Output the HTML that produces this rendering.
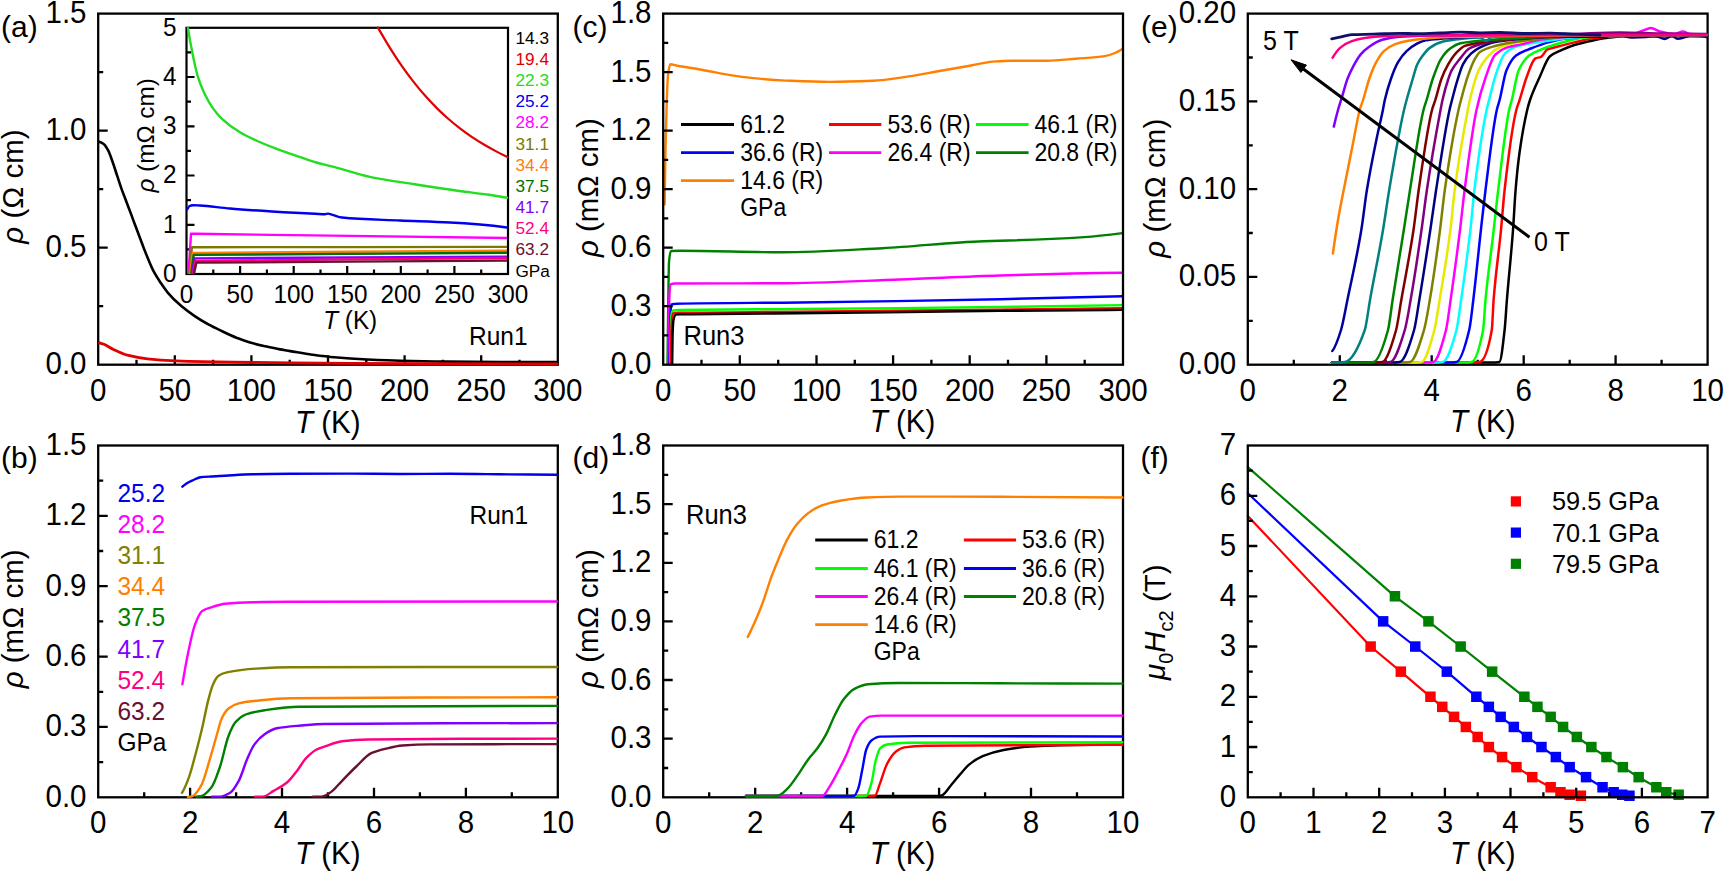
<!DOCTYPE html>
<html><head><meta charset="utf-8"><title>Resistivity figure</title>
<style>
html,body{margin:0;padding:0;background:#fff;}
body{width:1724px;height:872px;overflow:hidden;}
svg{display:block;font-family:"Liberation Sans", Arial, sans-serif;}
</style></head>
<body>
<svg width="1724" height="872" viewBox="0 0 1724 872">
<rect width="1724" height="872" fill="#fff"/>
<path d="M136.5,364.7 V359.7 M174.8,364.7 V355.2 M213.1,364.7 V359.7 M251.4,364.7 V355.2 M289.7,364.7 V359.7 M328,364.7 V355.2 M366.3,364.7 V359.7 M404.6,364.7 V355.2 M442.9,364.7 V359.7 M481.2,364.7 V355.2 M519.5,364.7 V359.7 M98.2,306.2 H103.2 M98.2,247.7 H107.7 M98.2,189.2 H103.2 M98.2,130.6 H107.7 M98.2,72.1 H103.2 " stroke="#000" stroke-width="2.3" fill="none"/>
<rect x="98.2" y="13.6" width="459.6" height="351.1" fill="none" stroke="#000" stroke-width="2.3"/>
<text transform="translate(98.2,400.5) scale(1,1.09)" font-size="29.5" text-anchor="middle" fill="#000">0</text>
<text transform="translate(174.8,400.5) scale(1,1.09)" font-size="29.5" text-anchor="middle" fill="#000">50</text>
<text transform="translate(251.4,400.5) scale(1,1.09)" font-size="29.5" text-anchor="middle" fill="#000">100</text>
<text transform="translate(328,400.5) scale(1,1.09)" font-size="29.5" text-anchor="middle" fill="#000">150</text>
<text transform="translate(404.6,400.5) scale(1,1.09)" font-size="29.5" text-anchor="middle" fill="#000">200</text>
<text transform="translate(481.2,400.5) scale(1,1.09)" font-size="29.5" text-anchor="middle" fill="#000">250</text>
<text transform="translate(557.8,400.5) scale(1,1.09)" font-size="29.5" text-anchor="middle" fill="#000">300</text>
<text transform="translate(86.5,374.2) scale(1,1.09)" font-size="29.5" text-anchor="end" fill="#000">0.0</text>
<text transform="translate(86.5,257.2) scale(1,1.09)" font-size="29.5" text-anchor="end" fill="#000">0.5</text>
<text transform="translate(86.5,140.1) scale(1,1.09)" font-size="29.5" text-anchor="end" fill="#000">1.0</text>
<text transform="translate(86.5,23.1) scale(1,1.09)" font-size="29.5" text-anchor="end" fill="#000">1.5</text>
<path d="M99.5,141.9 C101,142 102.4,143.1 103.9,144.2 C105.4,145.4 106.9,148 108.4,150.9 C109.9,153.8 111.4,158.6 112.9,162.8 C114.4,167 115.8,171.8 117.3,176.2 C118.8,180.7 120.3,185.4 121.8,189.6 C123.3,193.8 124.8,197.5 126.3,201.5 C127.8,205.5 129.3,209.4 130.8,213.4 C132.3,217.3 133.7,221.4 135.2,225.3 C136.7,229.3 138.2,233.3 139.7,237.3 C141.2,241.3 142.7,245.4 144.2,249.2 C147.4,257.2 150.6,265.6 153.8,271.7 C156.1,276 158.3,279.3 160.6,282.7 C162.9,286.1 165.2,289.6 167.5,292.3 C172.1,297.8 176.7,302.2 181.3,306.1 C185.9,310 190.5,313.3 195.1,316.4 C199.7,319.5 204.2,322.2 208.8,324.7 C213.4,327.2 218,329.3 222.6,331.5 C227.2,333.7 231.8,335.9 236.4,337.7 C241,339.5 245.5,341.3 250.1,342.6 C254.7,343.9 259.3,345 263.9,346 C269.3,347.2 274.6,348.4 280,349.4 C283.4,350 286.8,350.5 290.2,351.1 C297.5,352.3 304.9,353.7 312.2,354.7 C319.6,355.7 326.9,356.7 334.3,357.3 C345.3,358.3 356.3,359 367.3,359.5 C378.3,360 389.4,360.5 400.4,360.8 C415.1,361.2 429.8,361.5 444.5,361.6 C481.7,361.9 518.8,362.1 556,362.1" fill="none" stroke="#000000" stroke-width="2.6" stroke-linejoin="round" stroke-linecap="round"/>
<path d="M99.5,342.8 C101,343.2 102.5,343.7 104,344.3 C107,345.5 110,347.8 113,349.2 C117.8,351.5 122.5,354 127.3,355.2 C134,356.9 140.7,358.1 147.4,358.8 C156.9,359.8 166.5,360.4 176,360.8 C195.1,361.5 214.3,361.9 233.4,362.2 C272.3,362.8 311.1,363.2 350,363.4 C419,363.7 488,364 557,364" fill="none" stroke="#e00000" stroke-width="2.8" stroke-linejoin="round" stroke-linecap="round"/>
<text transform="translate(327.8,432.6) scale(1,1.09)" font-size="29.5" text-anchor="middle"><tspan font-style="italic">T</tspan> (K)</text>
<text transform="translate(22.7,186.5) rotate(-90)" font-size="29.5" text-anchor="middle"><tspan font-style="italic">&#961;</tspan> (&#937; cm)</text>
<text transform="translate(1,37.1) scale(1,0.97)" font-size="30" fill="#000">(a)</text>
<text transform="translate(469,345.4) scale(1,1.09)" font-size="24.5" text-anchor="start" fill="#000">Run1</text>
<rect x="186.5" y="27.8" width="321.5" height="246.2" fill="#fff"/>
<path d="M213.3,274 V269.5 M240.1,274 V266 M266.9,274 V269.5 M293.7,274 V266 M320.5,274 V269.5 M347.2,274 V266 M374,274 V269.5 M400.8,274 V266 M427.6,274 V269.5 M454.4,274 V266 M481.2,274 V269.5 M186.5,249.4 H191 M186.5,224.8 H194.5 M186.5,200.1 H191 M186.5,175.5 H194.5 M186.5,150.9 H191 M186.5,126.3 H194.5 M186.5,101.7 H191 M186.5,77 H194.5 M186.5,52.4 H191 " stroke="#000" stroke-width="2.2" fill="none"/>
<rect x="186.5" y="27.8" width="321.5" height="246.2" fill="none" stroke="#000" stroke-width="2.2"/>
<text transform="translate(186.5,303.3) scale(1,1.09)" font-size="24.3" text-anchor="middle" fill="#000">0</text>
<text transform="translate(240.1,303.3) scale(1,1.09)" font-size="24.3" text-anchor="middle" fill="#000">50</text>
<text transform="translate(293.7,303.3) scale(1,1.09)" font-size="24.3" text-anchor="middle" fill="#000">100</text>
<text transform="translate(347.2,303.3) scale(1,1.09)" font-size="24.3" text-anchor="middle" fill="#000">150</text>
<text transform="translate(400.8,303.3) scale(1,1.09)" font-size="24.3" text-anchor="middle" fill="#000">200</text>
<text transform="translate(454.4,303.3) scale(1,1.09)" font-size="24.3" text-anchor="middle" fill="#000">250</text>
<text transform="translate(508,303.3) scale(1,1.09)" font-size="24.3" text-anchor="middle" fill="#000">300</text>
<text transform="translate(176.5,281.8) scale(1,1.09)" font-size="24.3" text-anchor="end" fill="#000">0</text>
<text transform="translate(176.5,232.6) scale(1,1.09)" font-size="24.3" text-anchor="end" fill="#000">1</text>
<text transform="translate(176.5,183.3) scale(1,1.09)" font-size="24.3" text-anchor="end" fill="#000">2</text>
<text transform="translate(176.5,134.1) scale(1,1.09)" font-size="24.3" text-anchor="end" fill="#000">3</text>
<text transform="translate(176.5,84.8) scale(1,1.09)" font-size="24.3" text-anchor="end" fill="#000">4</text>
<text transform="translate(176.5,35.6) scale(1,1.09)" font-size="24.3" text-anchor="end" fill="#000">5</text>
<path d="M377.8,27.4 C381.7,34.3 385.7,41 389.6,47.3 C393.5,53.6 397.5,59.7 401.4,65.4 C405.3,71.1 409.3,76.4 413.2,81.4 C417.1,86.4 421.1,91.2 425,95.6 C428.9,100 432.9,104.2 436.8,108.1 C440.7,112 444.6,115.6 448.5,119 C452.4,122.4 456.4,125.6 460.3,128.6 C464.2,131.6 468.2,134.5 472.1,137.1 C476,139.7 480,142.2 483.9,144.5 C487.8,146.8 491.8,149 495.7,151.1 C499.6,153.2 503.6,155.2 507.5,157.1" fill="none" stroke="#e00000" stroke-width="2.2" stroke-linejoin="round" stroke-linecap="round"/>
<path d="M188,28.2 C189.4,37.1 190.9,45.4 192.3,52.5 C194.1,61.6 196,70.4 197.8,76.4 C199.6,82.4 201.5,87 203.3,91 C206.4,97.7 209.4,103.2 212.5,107.6 C215.6,112 218.6,115.7 221.7,118.6 C227.8,124.4 233.9,128.6 240,132.3 C246.1,136 252.3,138.8 258.4,141.5 C264.5,144.2 270.6,146.6 276.7,148.9 C282.8,151.2 289,153.2 295.1,155.3 C301.2,157.4 307.3,159.9 313.4,161.7 C322.3,164.4 331.1,166.2 340,168.6 C349.9,171.3 359.9,174.7 369.8,176.8 C384.7,180 399.6,181.9 414.5,184.3 C429.4,186.7 444.3,189 459.2,191 C469.1,192.3 479.1,193.3 489,194.7 C495,195.6 501,196.6 507,197.7" fill="none" stroke="#22dd22" stroke-width="2.4" stroke-linejoin="round" stroke-linecap="round"/>
<path d="M187.5,209 C188.2,207.7 188.8,206.3 189.5,206 C190.7,205.5 191.8,205.2 193,205.2 C195.3,205.2 197.7,205.4 200,205.5 C210,206.1 220,207.7 230,208.5 C244,209.7 258,210.6 272,211.5 C286.3,212.4 300.7,213.2 315,213.8 C318.3,213.9 321.7,214.2 325,214.2 C326,214.2 327,213.6 328,213.6 C329.3,213.6 330.7,214.2 332,214.6 C335.3,215.5 338.7,217.1 342,217.5 C361.3,219.5 380.7,219.6 400,220.5 C416.7,221.2 433.3,221.6 450,222.5 C460,223 470,223.7 480,224.5 C489,225.3 498,226.3 507,227.5" fill="none" stroke="#0000ee" stroke-width="2.4" stroke-linejoin="round" stroke-linecap="round"/>
<path d="M188.5,274 L191,233.8 L196,233.8 L350,235.9 L507,238" fill="none" stroke="#ff00ff" stroke-width="2.4" stroke-linejoin="round"/>
<path d="M189.4,274 L191.9,247.2 L196,247.2 L350,247.1 L507,246.9" fill="none" stroke="#7a7a00" stroke-width="2.4" stroke-linejoin="round"/>
<path d="M190.3,274 L192.8,253 L196,253 L350,251.8 L507,250.6" fill="none" stroke="#ff8000" stroke-width="2.4" stroke-linejoin="round"/>
<path d="M191.2,274 L193.7,254.9 L196,254.9 L350,253.9 L507,252.8" fill="none" stroke="#007000" stroke-width="2.4" stroke-linejoin="round"/>
<path d="M192.1,274 L194.6,258.4 L196,258.4 L350,257.5 L507,256.6" fill="none" stroke="#8000ff" stroke-width="2.4" stroke-linejoin="round"/>
<path d="M193,274 L195.5,260.9 L196,260.9 L350,259.4 L507,258" fill="none" stroke="#ff0080" stroke-width="2.4" stroke-linejoin="round"/>
<path d="M193.9,274 L196.4,262.6 L196,262.6 L350,261.6 L507,260.6" fill="none" stroke="#6a1030" stroke-width="2.4" stroke-linejoin="round"/>
<text transform="translate(350.2,329) scale(1,1.09)" font-size="24.3" text-anchor="middle"><tspan font-style="italic">T</tspan> (K)</text>
<text transform="translate(153.7,135.4) rotate(-90)" font-size="24.3" text-anchor="middle"><tspan font-style="italic">&#961;</tspan> (m&#937; cm)</text>
<text transform="translate(515.5,43.6) scale(1,0.92)" font-size="17.2" text-anchor="start" fill="#000000">14.3</text>
<text transform="translate(515.5,64.8) scale(1,0.92)" font-size="17.2" text-anchor="start" fill="#e00000">19.4</text>
<text transform="translate(515.5,86) scale(1,0.92)" font-size="17.2" text-anchor="start" fill="#22dd22">22.3</text>
<text transform="translate(515.5,107.1) scale(1,0.92)" font-size="17.2" text-anchor="start" fill="#0000ee">25.2</text>
<text transform="translate(515.5,128.3) scale(1,0.92)" font-size="17.2" text-anchor="start" fill="#ff00ff">28.2</text>
<text transform="translate(515.5,149.5) scale(1,0.92)" font-size="17.2" text-anchor="start" fill="#7a7a00">31.1</text>
<text transform="translate(515.5,170.7) scale(1,0.92)" font-size="17.2" text-anchor="start" fill="#ff8000">34.4</text>
<text transform="translate(515.5,191.9) scale(1,0.92)" font-size="17.2" text-anchor="start" fill="#007000">37.5</text>
<text transform="translate(515.5,213) scale(1,0.92)" font-size="17.2" text-anchor="start" fill="#8000ff">41.7</text>
<text transform="translate(515.5,234.2) scale(1,0.92)" font-size="17.2" text-anchor="start" fill="#ff0080">52.4</text>
<text transform="translate(515.5,255.4) scale(1,0.92)" font-size="17.2" text-anchor="start" fill="#6a1030">63.2</text>
<text transform="translate(515.5,276.6) scale(1,0.92)" font-size="17.2" text-anchor="start" fill="#000000">GPa</text>
<path d="M664.6,204.4 C664.9,183.6 665.2,164.3 665.5,150 C665.9,129.4 666.4,111.7 666.8,100 C667.2,89.2 667.6,78.3 668,75 C668.8,68.7 669.5,64.2 670.3,64.2 C672.2,64.2 674.1,65.1 676,65.5 C683.5,67 691.1,67.9 698.6,69.2 C713.1,71.7 727.7,75.2 742.2,76.9 C756.7,78.6 771.3,80 785.8,80.6 C800.3,81.2 814.9,81.9 829.4,81.9 C843.9,81.9 858.5,81.4 873,80.8 C885,80.3 897,78.1 909,76.4 C918.7,75 928.3,73 938,71.3 C947.7,69.6 957.3,68 967,66.3 C975.7,64.8 984.4,62.3 993.1,61.6 C998.9,61.2 1004.7,60.7 1010.5,60.7 C1022.6,60.7 1034.7,60.7 1046.8,60.7 C1056.5,60.7 1066.1,59.5 1075.8,58.7 C1085.5,57.9 1095.1,57.6 1104.8,56.1 C1108.2,55.6 1111.6,54.4 1115,53 C1117.4,52 1119.8,50.5 1122.2,48.9" fill="none" stroke="#ff8000" stroke-width="2.4" stroke-linejoin="round" stroke-linecap="round"/>
<path d="M667.5,364 C667.8,339 668,317.2 668.3,300 C668.5,285 668.8,264.7 669,262 C669.7,254.3 670.3,251 671,251 C674,250.8 677,250.8 680,250.8 C713.9,250.8 747.9,252.3 781.8,252.3 C815.4,252.3 849.1,249.9 882.7,248.2 C916.3,246.5 950,242.3 983.6,241.2 C989.1,241 994.5,241 1000,240.8 C1028.2,240 1056.3,238.9 1084.5,237.1 C1097.1,236.3 1109.8,234.7 1122.4,233.1" fill="none" stroke="#008000" stroke-width="2.4" stroke-linejoin="round" stroke-linecap="round"/>
<path d="M668.5,364 C668.8,335 669,307.1 669.3,300 C669.6,291.1 670,284.7 670.3,284.5 C671.9,283.7 673.4,283.5 675,283.5 C710,283.3 745,283.4 780,283.3 C820,283.2 860,280.9 900,279.5 C933.3,278.3 966.7,276.5 1000,275.5 C1040.8,274.3 1081.6,273.3 1122.4,272.8" fill="none" stroke="#ff00ff" stroke-width="2.4" stroke-linejoin="round" stroke-linecap="round"/>
<path d="M669.5,364 C669.8,344.7 670,326.6 670.3,320 C670.6,311.8 671,304.6 671.3,304.5 C672.9,303.8 674.4,303.7 676,303.7 C717.3,302.7 758.7,303 800,302.5 C866.7,301.7 933.3,300.5 1000,299.2 C1040.8,298.4 1081.6,297.4 1122.4,296.3" fill="none" stroke="#0000ff" stroke-width="2.4" stroke-linejoin="round" stroke-linecap="round"/>
<path d="M670.2,364 C670.5,344.5 670.7,323.6 671,320 C671.4,314.2 671.9,310.9 672.3,310.8 C674.9,310.1 677.4,310.1 680,310 C720,309.2 760,309.4 800,309 C866.7,308.4 933.3,307.8 1000,307 C1040.8,306.5 1081.6,305.8 1122.4,305.1" fill="none" stroke="#00ff00" stroke-width="2.4" stroke-linejoin="round" stroke-linecap="round"/>
<path d="M670.8,364 C671.1,347.1 671.3,329 671.6,325 C672.1,318 672.5,313.6 673,313.5 C675.3,312.9 677.7,312.8 680,312.8 C720,312 760,312.2 800,311.8 C866.7,311.2 933.3,310.3 1000,309.6 C1040.8,309.2 1081.6,308.7 1122.4,308.3" fill="none" stroke="#ff0000" stroke-width="2.4" stroke-linejoin="round" stroke-linecap="round"/>
<path d="M672.2,364 C672.3,352 672.5,338.9 672.6,335 C672.9,326.2 673.2,321.3 673.5,320 C674.3,316.4 675.1,314.7 675.9,314.6 C677.3,314.4 678.6,314.3 680,314.3 C711.7,313.7 743.3,313.8 775,313.5 C850,312.8 925,311.6 1000,310.9 C1040.8,310.5 1081.6,310.2 1122.4,309.9" fill="none" stroke="#000000" stroke-width="2.4" stroke-linejoin="round" stroke-linecap="round"/>
<path d="M701.5,364.7 V359.7 M739.8,364.7 V355.2 M778.2,364.7 V359.7 M816.5,364.7 V355.2 M854.8,364.7 V359.7 M893.1,364.7 V355.2 M931.4,364.7 V359.7 M969.7,364.7 V355.2 M1008,364.7 V359.7 M1046.4,364.7 V355.2 M1084.7,364.7 V359.7 M663.2,335.4 H668.2 M663.2,306.2 H672.7 M663.2,276.9 H668.2 M663.2,247.7 H672.7 M663.2,218.4 H668.2 M663.2,189.2 H672.7 M663.2,159.9 H668.2 M663.2,130.6 H672.7 M663.2,101.4 H668.2 M663.2,72.1 H672.7 M663.2,42.9 H668.2 " stroke="#000" stroke-width="2.3" fill="none"/>
<rect x="663.2" y="13.6" width="459.8" height="351.1" fill="none" stroke="#000" stroke-width="2.3"/>
<text transform="translate(663.2,400.5) scale(1,1.09)" font-size="29.5" text-anchor="middle" fill="#000">0</text>
<text transform="translate(739.8,400.5) scale(1,1.09)" font-size="29.5" text-anchor="middle" fill="#000">50</text>
<text transform="translate(816.5,400.5) scale(1,1.09)" font-size="29.5" text-anchor="middle" fill="#000">100</text>
<text transform="translate(893.1,400.5) scale(1,1.09)" font-size="29.5" text-anchor="middle" fill="#000">150</text>
<text transform="translate(969.7,400.5) scale(1,1.09)" font-size="29.5" text-anchor="middle" fill="#000">200</text>
<text transform="translate(1046.4,400.5) scale(1,1.09)" font-size="29.5" text-anchor="middle" fill="#000">250</text>
<text transform="translate(1123,400.5) scale(1,1.09)" font-size="29.5" text-anchor="middle" fill="#000">300</text>
<text transform="translate(651.5,374.2) scale(1,1.09)" font-size="29.5" text-anchor="end" fill="#000">0.0</text>
<text transform="translate(651.5,315.7) scale(1,1.09)" font-size="29.5" text-anchor="end" fill="#000">0.3</text>
<text transform="translate(651.5,257.2) scale(1,1.09)" font-size="29.5" text-anchor="end" fill="#000">0.6</text>
<text transform="translate(651.5,198.7) scale(1,1.09)" font-size="29.5" text-anchor="end" fill="#000">0.9</text>
<text transform="translate(651.5,140.1) scale(1,1.09)" font-size="29.5" text-anchor="end" fill="#000">1.2</text>
<text transform="translate(651.5,81.6) scale(1,1.09)" font-size="29.5" text-anchor="end" fill="#000">1.5</text>
<text transform="translate(651.5,23.1) scale(1,1.09)" font-size="29.5" text-anchor="end" fill="#000">1.8</text>
<text transform="translate(902.5,432.4) scale(1,1.09)" font-size="29.5" text-anchor="middle"><tspan font-style="italic">T</tspan> (K)</text>
<text transform="translate(598.1,187.6) rotate(-90)" font-size="29.5" text-anchor="middle"><tspan font-style="italic">&#961;</tspan> (m&#937; cm)</text>
<text transform="translate(572.6,37.1) scale(1,0.97)" font-size="30" fill="#000">(c)</text>
<text transform="translate(683.5,344.9) scale(1,1.09)" font-size="25.5" text-anchor="start" fill="#000">Run3</text>
<path d="M681,124.5 H734" stroke="#000000" stroke-width="2.8"/>
<text transform="translate(740.2,132.5) scale(1,1.09)" font-size="23" text-anchor="start" fill="#000">61.2</text>
<path d="M829,124.5 H881.3" stroke="#ff0000" stroke-width="2.8"/>
<text transform="translate(887.5,132.5) scale(1,1.09)" font-size="23" text-anchor="start" fill="#000">53.6 (R)</text>
<path d="M976,124.5 H1028.6" stroke="#00ff00" stroke-width="2.8"/>
<text transform="translate(1034.4,132.5) scale(1,1.09)" font-size="23" text-anchor="start" fill="#000">46.1 (R)</text>
<path d="M681,152.6 H734" stroke="#0000ff" stroke-width="2.8"/>
<text transform="translate(740.2,160.6) scale(1,1.09)" font-size="23" text-anchor="start" fill="#000">36.6 (R)</text>
<path d="M829,152.6 H881.3" stroke="#ff00ff" stroke-width="2.8"/>
<text transform="translate(887.5,160.6) scale(1,1.09)" font-size="23" text-anchor="start" fill="#000">26.4 (R)</text>
<path d="M976,152.6 H1028.6" stroke="#008000" stroke-width="2.8"/>
<text transform="translate(1034.4,160.6) scale(1,1.09)" font-size="23" text-anchor="start" fill="#000">20.8 (R)</text>
<path d="M681,180.7 H734" stroke="#ff8000" stroke-width="2.8"/>
<text transform="translate(740.2,188.7) scale(1,1.09)" font-size="23" text-anchor="start" fill="#000">14.6 (R)</text>
<text transform="translate(740.2,215.8) scale(1,1.09)" font-size="23" text-anchor="start" fill="#000">GPa</text>
<path d="M1293.8,364.7 V359.7 M1339.8,364.7 V355.2 M1385.7,364.7 V359.7 M1431.7,364.7 V355.2 M1477.7,364.7 V359.7 M1523.7,364.7 V355.2 M1569.7,364.7 V359.7 M1615.6,364.7 V355.2 M1661.6,364.7 V359.7 M1247.8,320.8 H1252.8 M1247.8,276.9 H1257.3 M1247.8,233 H1252.8 M1247.8,189.2 H1257.3 M1247.8,145.3 H1252.8 M1247.8,101.4 H1257.3 M1247.8,57.5 H1252.8 " stroke="#000" stroke-width="2.3" fill="none"/>
<rect x="1247.8" y="13.6" width="459.8" height="351.1" fill="none" stroke="#000" stroke-width="2.3"/>
<text transform="translate(1247.8,400.5) scale(1,1.09)" font-size="29.5" text-anchor="middle" fill="#000">0</text>
<text transform="translate(1339.8,400.5) scale(1,1.09)" font-size="29.5" text-anchor="middle" fill="#000">2</text>
<text transform="translate(1431.7,400.5) scale(1,1.09)" font-size="29.5" text-anchor="middle" fill="#000">4</text>
<text transform="translate(1523.7,400.5) scale(1,1.09)" font-size="29.5" text-anchor="middle" fill="#000">6</text>
<text transform="translate(1615.6,400.5) scale(1,1.09)" font-size="29.5" text-anchor="middle" fill="#000">8</text>
<text transform="translate(1707.6,400.5) scale(1,1.09)" font-size="29.5" text-anchor="middle" fill="#000">10</text>
<text transform="translate(1236.1,374.2) scale(1,1.09)" font-size="29.5" text-anchor="end" fill="#000">0.00</text>
<text transform="translate(1236.1,286.4) scale(1,1.09)" font-size="29.5" text-anchor="end" fill="#000">0.05</text>
<text transform="translate(1236.1,198.7) scale(1,1.09)" font-size="29.5" text-anchor="end" fill="#000">0.10</text>
<text transform="translate(1236.1,110.9) scale(1,1.09)" font-size="29.5" text-anchor="end" fill="#000">0.15</text>
<text transform="translate(1236.1,23.1) scale(1,1.09)" font-size="29.5" text-anchor="end" fill="#000">0.20</text>
<path d="M1332,362.6 C1385.5,362.6 1438.9,362.6 1492.4,362.6 C1494.7,362.6 1497.1,362.4 1499.4,362 C1501.1,361.7 1502.9,345.2 1504.6,330 C1505.4,323.3 1506.1,309.5 1506.9,300 C1508.9,274.9 1511,257.3 1513,230 C1513.9,218.4 1514.7,200.5 1515.6,190 C1516.8,175.5 1518,163.9 1519.2,155 C1521.9,135.3 1524.5,121.2 1527.2,110 C1528.1,106.1 1529.1,102.8 1530,100 C1533.2,90.5 1536.4,84.2 1539.6,77.2 C1543.1,69.6 1546.5,59.3 1550,56.3 C1553.8,53.1 1557.6,51.9 1561.4,50.2 C1565.7,48.2 1570.1,46.3 1574.4,45 C1580.2,43.2 1586,41.9 1591.8,40.7 C1597.6,39.5 1603.4,38.3 1609.2,37.6 C1614.5,37 1619.7,36.2 1625,36.2 C1633.3,36.2 1641.7,36.6 1650,36.6 C1660,36.6 1670,36 1680,36 C1688.8,36 1697.7,36.1 1706.5,36.4" fill="none" stroke="#000000" stroke-width="2.5" stroke-linejoin="round" stroke-linecap="round"/>
<path d="M1332,362.6 C1378.9,362.6 1425.8,362.6 1472.7,362.6 C1475,362.6 1477.4,362.4 1479.7,362 C1483.7,361.4 1487.8,352.4 1491.8,330 C1492.4,326.7 1493,307.7 1493.6,300 C1496.1,268.5 1498.5,255.4 1501,230 C1502.2,217.6 1503.4,200.6 1504.6,190 C1508.5,155.5 1512.4,125.3 1516.3,110 C1517.4,105.7 1518.5,103.4 1519.6,100 C1521.9,92.7 1524.3,83.3 1526.6,77.2 C1529.5,69.6 1532.4,59.9 1535.3,58.5 C1537.2,57.6 1539.1,57.7 1541,56.8 C1543.1,55.8 1545.3,50.4 1547.4,49.4 C1550.6,47.9 1553.8,47.6 1557,46.8 C1562.8,45.3 1568.6,43.8 1574.4,42.4 C1580.2,41 1586,39.4 1591.8,38.5 C1599.5,37.4 1607.3,36.3 1615,36 C1626.7,35.5 1638.3,35.2 1650,35.2 C1668.8,35.2 1687.7,35.2 1706.5,35.4" fill="none" stroke="#ff0000" stroke-width="2.5" stroke-linejoin="round" stroke-linecap="round"/>
<path d="M1332,362.6 C1376.2,362.6 1420.3,362.6 1464.5,362.6 C1466.8,362.6 1469.2,362.4 1471.5,362 C1475.4,361.4 1479.2,350.3 1483.1,330 C1483.9,325.8 1484.7,308.4 1485.5,300 C1488.2,271.3 1491,253.9 1493.7,230 C1495.2,216.9 1496.7,202.2 1498.2,190 C1501.8,160.4 1505.5,126.8 1509.1,110 C1510,105.8 1510.9,103.5 1511.8,100 C1514.1,90.9 1516.4,75.2 1518.7,70.2 C1522.2,62.5 1525.7,58.1 1529.2,55.5 C1532.7,52.9 1536.1,51.7 1539.6,50.2 C1542.5,48.9 1545.4,47.8 1548.3,46.8 C1554.1,44.8 1559.9,43 1565.7,41.5 C1571.5,40 1577.3,38.5 1583.1,37.8 C1592.1,36.8 1601,35.9 1610,35.8 C1642.2,35.4 1674.3,35.2 1706.5,35.2" fill="none" stroke="#00ff00" stroke-width="2.5" stroke-linejoin="round" stroke-linecap="round"/>
<path d="M1332,362.6 C1371.2,362.6 1410.3,362.6 1449.5,362.6 C1451.8,362.6 1454.2,362.4 1456.5,362 C1460.7,361.4 1465,347.3 1469.2,330 C1470.6,324.4 1471.9,311 1473.3,300 C1475.8,279.6 1478.4,252.6 1480.9,230 C1482.4,216.3 1484,202.1 1485.5,190 C1489.3,160.2 1493,126.8 1496.8,110 C1497.7,105.8 1498.7,103.6 1499.6,100 C1501.9,91.1 1504.2,75.5 1506.5,70.2 C1509.7,62.8 1512.9,57.9 1516.1,55.5 C1521,51.8 1526,50.5 1530.9,48.5 C1536.7,46.2 1542.5,44 1548.3,42.4 C1554.1,40.8 1559.9,39.2 1565.7,38.5 C1577.1,37.1 1588.6,35.9 1600,35.8 C1635.5,35.4 1671,35.2 1706.5,35.2" fill="none" stroke="#0000ff" stroke-width="2.5" stroke-linejoin="round" stroke-linecap="round"/>
<path d="M1332,362.6 C1366.5,362.6 1401,362.6 1435.5,362.6 C1437.8,362.6 1440.2,362.3 1442.5,362 C1447.2,361.3 1451.8,347.2 1456.5,330 C1458,324.4 1459.6,310.6 1461.1,300 C1464.2,278.5 1467.3,257.1 1470.4,230 C1471.7,218.3 1473.1,200.9 1474.4,190 C1478.5,156.6 1482.5,129.2 1486.6,110 C1487.4,106.1 1488.3,103.2 1489.1,100 C1491.4,90.9 1493.8,80.4 1496.1,73.7 C1499,65.4 1501.9,56.8 1504.8,53.7 C1507.7,50.6 1510.6,48.7 1513.5,47.6 C1519.3,45.4 1525.1,44.4 1530.9,43.3 C1536.7,42.2 1542.5,41.5 1548.3,40.7 C1558.9,39.3 1569.4,37.3 1580,37 C1622.2,35.6 1664.3,35 1706.5,35" fill="none" stroke="#00ffff" stroke-width="2.5" stroke-linejoin="round" stroke-linecap="round"/>
<path d="M1332,362.6 C1363.4,362.6 1394.8,362.6 1426.2,362.6 C1428.5,362.6 1430.9,362.4 1433.2,362 C1437.5,361.4 1441.7,346.6 1446,330 C1447.5,324 1449.1,310.6 1450.6,300 C1453.7,278.4 1456.9,255.4 1460,230 C1461.5,217.6 1463.1,201.9 1464.6,190 C1468.6,159.3 1472.5,128.2 1476.5,110 C1479.6,95.9 1482.6,86 1485.7,77.2 C1488.9,68.2 1492,57.8 1495.2,54.6 C1499,50.8 1502.7,48.9 1506.5,47.6 C1511.7,45.8 1517,45.3 1522.2,44.1 C1528,42.7 1533.8,40.7 1539.6,39.8 C1549.7,38.2 1559.9,37 1570,36.5 C1590,35.4 1610,36 1630,34.5 C1634,34.2 1638,32.2 1642,31 C1645,30.1 1648,28 1651,28 C1654,28 1657,30.8 1660,31.5 C1665,32.7 1670,34 1675,34 C1677.7,34 1680.3,31.5 1683,31.5 C1685.3,31.5 1687.7,33.9 1690,34 C1695.5,34.3 1701,34.5 1706.5,34.5" fill="none" stroke="#ff00ff" stroke-width="2.5" stroke-linejoin="round" stroke-linecap="round"/>
<path d="M1332,362.6 C1359.5,362.6 1387.1,362.6 1414.6,362.6 C1416.9,362.6 1419.3,362.4 1421.6,362 C1425.9,361.4 1430.1,345.8 1434.4,330 C1436.1,323.6 1437.9,310.5 1439.6,300 C1443.2,278.2 1446.8,258.2 1450.4,230 C1451.8,218.8 1453.3,201 1454.7,190 C1459.1,156.6 1463.4,132.7 1467.8,110 C1468.7,105.3 1469.6,100.8 1470.5,97.2 C1473.2,86.2 1476,75.8 1478.7,70.2 C1481.6,64.2 1484.5,60.5 1487.4,57.2 C1490.3,54 1493.2,51.1 1496.1,49.4 C1500.5,46.9 1504.8,45.3 1509.2,44.1 C1513.5,42.9 1517.9,42.4 1522.2,41.5 C1528,40.4 1533.8,38.7 1539.6,38.1 C1549.7,37.1 1559.9,36.4 1570,36.2 C1615.5,35.4 1661,35 1706.5,35" fill="none" stroke="#e8e800" stroke-width="2.5" stroke-linejoin="round" stroke-linecap="round"/>
<path d="M1332,362.6 C1355.7,362.6 1379.3,362.6 1403,362.6 C1405.3,362.6 1407.7,362.3 1410,362 C1414.7,361.3 1419.3,345.6 1424,330 C1425.9,323.5 1427.9,311.3 1429.8,300 C1433.2,280.2 1436.6,255.9 1440,230 C1441.6,217.8 1443.2,201.3 1444.8,190 C1449.4,157.7 1453.9,130.8 1458.5,110 C1459.3,106.2 1460.2,103.1 1461,100 C1463.2,91.8 1465.3,83.6 1467.5,77.2 C1469.8,70.4 1472.1,63.9 1474.4,59.8 C1476.3,56.5 1478.1,53.3 1480,52 C1485,48.6 1490,47.4 1495,46 C1501.7,44.2 1508.3,43 1515,42 C1523.3,40.7 1531.7,39.8 1540,39 C1550,38 1560,37 1570,36.5 C1588.3,35.5 1606.7,34.5 1625,34.5 C1652.2,34.5 1679.3,34.5 1706.5,34.5" fill="none" stroke="#808000" stroke-width="2.5" stroke-linejoin="round" stroke-linecap="round"/>
<path d="M1332,362.6 C1352.2,362.6 1372.4,362.6 1392.6,362.6 C1394.9,362.6 1397.3,362.3 1399.6,362 C1404.4,361.3 1409.3,346.6 1414.1,330 C1415.8,324 1417.6,310.4 1419.3,300 C1423,277.9 1426.6,254.4 1430.3,230 C1432.2,217.1 1434.2,202.5 1436.1,190 C1440.6,161.1 1445,130.5 1449.5,110 C1450.3,106.2 1451.2,103.2 1452,100 C1453.7,93.6 1455.3,87 1457,81.6 C1459,75 1461.1,67.9 1463.1,64.2 C1465.7,59.3 1468.4,56.1 1471,53.7 C1473.9,51 1476.8,49 1479.7,47.6 C1484.8,45.1 1489.9,43 1495,42 C1503.3,40.4 1511.7,39.7 1520,39 C1530,38.1 1540,37.1 1550,37 C1568,36.8 1586,36.9 1604,36.7 C1608.7,36.6 1613.3,35 1618,35 C1622.7,35 1627.3,37.4 1632,37.4 C1636.7,37.4 1641.3,37.3 1646,37 C1648.3,36.9 1650.7,35 1653,35 C1656.8,35 1660.7,39 1664.5,39 C1667,39 1669.5,36 1672,36 C1674,36 1676,38.8 1678,38.8 C1683.3,38.8 1688.7,35 1694,35 C1698.2,35 1702.3,35.6 1706.5,37" fill="none" stroke="#000080" stroke-width="2.5" stroke-linejoin="round" stroke-linecap="round"/>
<path d="M1332,362.6 C1349.1,362.6 1366.2,362.6 1383.3,362.6 C1385.6,362.6 1388,362.3 1390.3,362 C1395.1,361.3 1400,345.9 1404.8,330 C1406.7,323.7 1408.7,311 1410.6,300 C1414.2,279.4 1417.9,255.2 1421.5,230 C1423.3,217.5 1425.1,202 1426.9,190 C1431.4,159.8 1436,134 1440.5,110 C1441.2,106.5 1441.8,102.9 1442.5,100 C1444.4,91.7 1446.4,84.7 1448.3,79 C1449.5,75.6 1450.6,72.4 1451.8,70.2 C1454.7,64.8 1457.6,61.7 1460.5,58.1 C1463.4,54.5 1466.3,50.2 1469.2,48.5 C1472.1,46.8 1475,45.9 1477.9,45 C1483.6,43.3 1489.3,41.8 1495,41 C1503.3,39.8 1511.7,39.3 1520,38.5 C1530,37.5 1540,36.2 1550,35.5 C1563.3,34.5 1576.7,33.7 1590,33.2 C1600,32.8 1610,32.4 1620,32.4 C1633.3,32.4 1646.7,33.2 1660,33.4 C1675.5,33.7 1691,33.9 1706.5,34" fill="none" stroke="#800080" stroke-width="2.5" stroke-linejoin="round" stroke-linecap="round"/>
<path d="M1332,362.6 C1346.4,362.6 1360.8,362.6 1375.2,362.6 C1377.5,362.6 1379.9,362.3 1382.2,362 C1386.8,361.3 1391.5,346.3 1396.1,330 C1397.8,323.9 1399.6,310 1401.3,300 C1405.4,276.6 1409.4,257.3 1413.5,230 C1415.2,218.4 1417,201.9 1418.7,190 C1423.1,159.5 1427.6,126.8 1432,110 C1433.1,105.8 1434.2,103.5 1435.3,100 C1437.3,93.5 1439.4,84.4 1441.4,79 C1443.7,72.9 1446,68.2 1448.3,64.2 C1450.9,59.6 1453.6,55.5 1456.2,52.8 C1459.1,49.8 1462,47 1464.9,45.9 C1467.8,44.8 1470.7,44.3 1473.6,43.7 C1479.1,42.6 1484.5,41.6 1490,41 C1500,39.9 1510,39.2 1520,38.5 C1533.3,37.5 1546.7,36.3 1560,36 C1608.8,35 1657.7,34.5 1706.5,34.5" fill="none" stroke="#800000" stroke-width="2.5" stroke-linejoin="round" stroke-linecap="round"/>
<path d="M1332,362.6 C1343.5,362.6 1355,362.6 1366.5,362.6 C1368.8,362.6 1371.2,362.3 1373.5,362 C1378.3,361.3 1383.2,347.4 1388,330 C1389.5,324.5 1391.1,309.8 1392.6,300 C1396.3,276.1 1400.1,253.7 1403.8,230 C1405.9,216.9 1407.9,202.8 1410,190 C1414.5,162.1 1419,127.7 1423.5,110 C1424.5,105.9 1425.6,103.4 1426.6,100 C1428.6,93.3 1430.7,84.9 1432.7,79 C1435.3,71.5 1437.9,64 1440.5,59.8 C1443.7,54.6 1446.9,50.8 1450.1,48.5 C1453.6,46.1 1457,44.1 1460.5,43.3 C1463.4,42.6 1466.3,42.3 1469.2,42 C1476.1,41.2 1483.1,40.6 1490,40 C1500,39.2 1510,38.6 1520,38 C1533.3,37.2 1546.7,36.2 1560,36 C1608.8,35.3 1657.7,35 1706.5,35" fill="none" stroke="#008000" stroke-width="2.5" stroke-linejoin="round" stroke-linecap="round"/>
<path d="M1332,362.6 C1334,362.6 1336,362.6 1338,362.6 C1340.3,362.6 1342.7,362.3 1345,362 C1351.6,361.1 1358.2,348.7 1364.8,330 C1366.5,325.1 1368.3,309.7 1370,300 C1374.3,275.7 1378.7,255.7 1383,230 C1385.1,217.7 1387.1,202.3 1389.2,190 C1394.1,160.6 1399.1,131.3 1404,110 C1404.9,106.3 1405.7,103.2 1406.6,100 C1408.6,92.6 1410.7,85.8 1412.7,79 C1414.1,74.2 1415.6,68.2 1417,65 C1418.7,61.1 1420.5,58.6 1422.2,56.3 C1424.8,52.8 1427.5,49.4 1430.1,47.6 C1434.4,44.7 1438.8,42.5 1443.1,41.5 C1448.9,40.2 1454.7,39.5 1460.5,38.9 C1467,38.3 1473.5,37.5 1480,37.5 C1482,37.5 1484,41 1486,41 C1488,41 1490,37.2 1492,37 C1501.3,36.2 1510.7,36.1 1520,36 C1582.2,35.3 1644.3,35 1706.5,35" fill="none" stroke="#008080" stroke-width="2.5" stroke-linejoin="round" stroke-linecap="round"/>
<path d="M1332.3,351 C1335.2,347.8 1338.1,339.4 1341,330 C1343.1,323.1 1345.3,310.3 1347.4,300 C1352,277.6 1356.7,258.1 1361.3,230 C1363.2,218.7 1365,201.5 1366.9,190 C1370.1,170.5 1373.2,155.2 1376.4,139.7 C1378.6,129.1 1380.7,120.7 1382.9,110 C1383.5,106.9 1384.2,102.7 1384.8,100 C1386.8,91.2 1388.9,84.7 1390.9,79 C1393.2,72.4 1395.6,66.4 1397.9,62.4 C1400.8,57.5 1403.7,53.8 1406.6,51.1 C1410.1,47.9 1413.5,45.5 1417,43.7 C1419.9,42.2 1422.8,40.7 1425.7,40.2 C1430.1,39.5 1434.4,39.2 1438.8,38.9 C1449.2,38.1 1459.6,37.2 1470,37 C1548.8,35.5 1627.7,35 1706.5,35" fill="none" stroke="#0000a0" stroke-width="2.5" stroke-linejoin="round" stroke-linecap="round"/>
<path d="M1332.9,253.5 C1334.6,241.3 1336.3,230 1338,220 C1339.9,208.9 1341.8,199.8 1343.7,190 C1347,172.8 1350.4,156.3 1353.7,139.7 C1355.7,129.7 1357.7,117.2 1359.7,110 C1360.8,105.9 1362,103.6 1363.1,100 C1365.1,93.6 1367.2,84.8 1369.2,79 C1371.5,72.5 1373.8,66.6 1376.1,62.4 C1378.7,57.7 1381.3,53.4 1383.9,51.1 C1387.7,47.7 1391.5,45.5 1395.3,44.1 C1399.6,42.5 1404,41.5 1408.3,40.7 C1411.2,40.2 1414.1,39.7 1417,39.4 C1428,38.2 1439,37.2 1450,37 C1535.5,35.5 1621,35 1706.5,35" fill="none" stroke="#ff8000" stroke-width="2.5" stroke-linejoin="round" stroke-linecap="round"/>
<path d="M1333.8,126.6 C1335.2,120.6 1336.6,115 1338,110 C1339.4,105 1340.8,100.9 1342.2,96.3 C1343.9,90.6 1345.7,83.6 1347.4,79 C1349.4,73.7 1351.5,69.7 1353.5,65.9 C1355.8,61.6 1358.2,57.3 1360.5,54.6 C1363.4,51.2 1366.3,48.8 1369.2,46.8 C1373.5,43.8 1377.9,41 1382.2,39.8 C1388,38.2 1393.8,37.1 1399.6,36.7 C1413.1,35.8 1426.5,35.3 1440,35.2 C1528.8,34.6 1617.7,34.5 1706.5,34.5" fill="none" stroke="#8000ff" stroke-width="2.5" stroke-linejoin="round" stroke-linecap="round"/>
<path d="M1332.6,57.6 C1335.2,53.5 1337.8,49.7 1340.4,47.6 C1344.2,44.5 1348,42.4 1351.8,41.1 C1356.1,39.7 1360.5,38.7 1364.8,38.1 C1370.6,37.3 1376.4,36.5 1382.2,36.3 C1394.8,35.8 1407.4,35.6 1420,35.5 C1515.5,35.1 1611,35 1706.5,35" fill="none" stroke="#ff0080" stroke-width="2.5" stroke-linejoin="round" stroke-linecap="round"/>
<path d="M1331.7,38.9 C1334.8,38.2 1337.9,37.5 1341,36.8 C1344.6,36 1348.2,34.8 1351.8,34.6 C1359,34.3 1366.3,34.3 1373.5,34.1 C1382.2,33.9 1390.9,33.3 1399.6,33.3 C1405.4,33.3 1411.2,33.7 1417,33.7 C1424.7,33.7 1432.3,33.3 1440,33 C1446.8,32.8 1453.7,32.2 1460.5,32.2 C1467,32.2 1473.5,32.8 1480,32.8 C1486.7,32.8 1493.3,32.5 1500,32.5 C1508.3,32.5 1516.7,33.5 1525,33.5 C1533.3,33.5 1541.7,33.2 1550,33.2 C1558.3,33.2 1566.7,33.9 1575,34.2 C1583.3,34.5 1591.7,34.8 1600,35" fill="none" stroke="#10106a" stroke-width="2.8" stroke-linejoin="round" stroke-linecap="round"/>
<text transform="translate(1482.8,431.8) scale(1,1.09)" font-size="29.5" text-anchor="middle"><tspan font-style="italic">T</tspan> (K)</text>
<text transform="translate(1164.7,188.2) rotate(-90)" font-size="29.5" text-anchor="middle"><tspan font-style="italic">&#961;</tspan> (m&#937; cm)</text>
<text transform="translate(1141,37.1) scale(1,0.97)" font-size="30" fill="#000">(e)</text>
<path d="M1529.5,237.2 L1298,65" stroke="#000" stroke-width="3" fill="none"/>
<path d="M1291,59.8 L1300.9,72.5 L1306.4,65.1 Z" fill="#000" stroke="#000" stroke-width="1"/>
<text transform="translate(1263,49.9) scale(1,1.09)" font-size="25" text-anchor="start" fill="#000">5 T</text>
<text transform="translate(1534,250.6) scale(1,1.09)" font-size="25" text-anchor="start" fill="#000">0 T</text>
<path d="M144.2,797.3 V792.3 M190.1,797.3 V787.8 M236.1,797.3 V792.3 M282,797.3 V787.8 M328,797.3 V792.3 M374,797.3 V787.8 M419.9,797.3 V792.3 M465.9,797.3 V787.8 M511.8,797.3 V792.3 M98.2,762.1 H103.2 M98.2,726.9 H107.7 M98.2,691.8 H103.2 M98.2,656.6 H107.7 M98.2,621.4 H103.2 M98.2,586.2 H107.7 M98.2,551 H103.2 M98.2,515.9 H107.7 M98.2,480.7 H103.2 " stroke="#000" stroke-width="2.3" fill="none"/>
<rect x="98.2" y="445.5" width="459.6" height="351.8" fill="none" stroke="#000" stroke-width="2.3"/>
<text transform="translate(98.2,832.6) scale(1,1.09)" font-size="29.5" text-anchor="middle" fill="#000">0</text>
<text transform="translate(190.1,832.6) scale(1,1.09)" font-size="29.5" text-anchor="middle" fill="#000">2</text>
<text transform="translate(282,832.6) scale(1,1.09)" font-size="29.5" text-anchor="middle" fill="#000">4</text>
<text transform="translate(374,832.6) scale(1,1.09)" font-size="29.5" text-anchor="middle" fill="#000">6</text>
<text transform="translate(465.9,832.6) scale(1,1.09)" font-size="29.5" text-anchor="middle" fill="#000">8</text>
<text transform="translate(557.8,832.6) scale(1,1.09)" font-size="29.5" text-anchor="middle" fill="#000">10</text>
<text transform="translate(86.5,806.8) scale(1,1.09)" font-size="29.5" text-anchor="end" fill="#000">0.0</text>
<text transform="translate(86.5,736.4) scale(1,1.09)" font-size="29.5" text-anchor="end" fill="#000">0.3</text>
<text transform="translate(86.5,666.1) scale(1,1.09)" font-size="29.5" text-anchor="end" fill="#000">0.6</text>
<text transform="translate(86.5,595.7) scale(1,1.09)" font-size="29.5" text-anchor="end" fill="#000">0.9</text>
<text transform="translate(86.5,525.4) scale(1,1.09)" font-size="29.5" text-anchor="end" fill="#000">1.2</text>
<text transform="translate(86.5,455) scale(1,1.09)" font-size="29.5" text-anchor="end" fill="#000">1.5</text>
<path d="M182.4,486.7 C183.8,485.4 185.1,484.3 186.5,483.4 C188.3,482.2 190.2,481.4 192,480.6 C194.8,479.4 197.5,477.7 200.3,477.3 C204,476.8 207.6,476.7 211.3,476.5 C215.9,476.2 220.4,475.9 225,475.7 C234.2,475.2 243.4,474.5 252.6,474.3 C265.1,474 277.5,473.9 290,473.8 C310,473.7 330,473.6 350,473.6 C366.7,473.6 383.3,474 400,474 C416.7,474 433.3,473.8 450,473.8 C466.7,473.8 483.3,474.1 500,474.3 C519,474.5 538,474.6 557,474.8" fill="none" stroke="#0000ee" stroke-width="2.4" stroke-linejoin="round" stroke-linecap="round"/>
<path d="M182.4,684.3 C184.7,670.2 187,657.7 189.3,647.2 C191.1,638.8 193,630.2 194.8,625.2 C197.1,619 199.4,613.1 201.7,611.4 C204.9,609.1 208.1,608.4 211.3,607.3 C215.9,605.8 220.4,604.1 225,603.7 C234.2,602.9 243.4,602.5 252.6,602.3 C265.1,602 277.5,601.8 290,601.8 C379,601.6 468,601.5 557,601.5" fill="none" stroke="#ff00ff" stroke-width="2.4" stroke-linejoin="round" stroke-linecap="round"/>
<path d="M182,792.8 C184.3,789.1 186.6,783.6 188.9,777.3 C191.2,771 193.5,761.8 195.8,753.2 C198.1,744.6 200.4,735.6 202.7,725.7 C204.4,718.2 206.2,708.3 207.9,701.6 C209.6,695 211.3,688.2 213,684.5 C214.7,680.7 216.5,677.2 218.2,676 C221.1,674 223.9,673 226.8,672.4 C236.5,670.3 246.3,669.2 256,668.6 C267.5,667.9 278.9,667.2 290.4,667.2 C379.3,667 468.1,667 557,667" fill="none" stroke="#808000" stroke-width="2.4" stroke-linejoin="round" stroke-linecap="round"/>
<path d="M188,797 C189.5,797 190.9,796.6 192.4,796.2 C195.3,795.4 198.1,790.8 201,785.9 C203.9,781 206.7,769.4 209.6,760.1 C211.9,752.7 214.2,743.9 216.5,736 C218.2,730.2 219.9,722.4 221.6,718.8 C223.9,713.9 226.2,710.3 228.5,708.5 C231.9,705.8 235.4,704.1 238.8,703.3 C244.5,701.9 250.3,701.4 256,700.8 C267.5,699.6 278.9,698.3 290.4,698.2 C379.3,697.4 468.1,697.3 557,697.3" fill="none" stroke="#ff8000" stroke-width="2.4" stroke-linejoin="round" stroke-linecap="round"/>
<path d="M196,796.6 C197.7,796.6 199.3,796.4 201,796.2 C204.4,795.7 207.9,791.9 211.3,787.6 C214.2,784 217,775.3 219.9,767 C222.8,758.7 225.6,743.3 228.5,736 C230.8,730.2 233.1,724.9 235.4,722.3 C238.8,718.4 242.3,715.8 245.7,714.5 C252,712.2 258.3,711.1 264.6,710.2 C276.1,708.6 287.5,706.9 299,706.8 C385,706 471,705.9 557,705.9" fill="none" stroke="#008000" stroke-width="2.4" stroke-linejoin="round" stroke-linecap="round"/>
<path d="M212,796.6 C214.6,796.6 217.3,796.6 219.9,796.6 C223.3,796.6 226.8,794.8 230.2,792.8 C233.1,791.1 235.9,786 238.8,780.8 C241.7,775.6 244.5,764.9 247.4,758.4 C249.7,753.2 252,747.7 254.3,744.6 C257.7,739.9 261.2,736.6 264.6,734.3 C268.6,731.6 272.7,729.1 276.7,728.3 C284.1,726.8 291.6,726.3 299,725.7 C307.6,725 316.3,724.1 324.9,724 C402.3,723.3 479.6,723.1 557,723.1" fill="none" stroke="#8000ff" stroke-width="2.4" stroke-linejoin="round" stroke-linecap="round"/>
<path d="M255,796.6 C257.6,796.6 260.3,796.6 262.9,796.6 C266.3,796.6 269.8,793.1 273.2,791.1 C277.8,788.5 282.4,786.3 287,782.5 C290.4,779.7 293.9,774.8 297.3,770.4 C300.2,766.7 303,761.4 305.9,758.4 C309.3,754.8 312.8,751.6 316.2,749.8 C319.1,748.3 322,747.4 324.9,746.4 C330.6,744.4 336.4,741.8 342.1,741.2 C350.7,740.2 359.3,739.6 367.9,739.5 C430.9,738.8 494,738.6 557,738.6" fill="none" stroke="#ff0080" stroke-width="2.4" stroke-linejoin="round" stroke-linecap="round"/>
<path d="M313,796.6 C315.8,796.6 318.6,796.6 321.4,796.6 C324.3,796.6 327.1,794.5 330,792.8 C334,790.4 338.1,784.8 342.1,780.8 C346.7,776.2 351.2,771.3 355.8,767 C361,762.1 366.1,755.6 371.3,753.2 C375.9,751.1 380.5,750 385.1,748.9 C390.8,747.5 396.6,745.9 402.3,745.5 C411.5,744.9 420.8,744.5 430,744.4 C472.3,744.2 514.7,744.1 557,744.1" fill="none" stroke="#6a1030" stroke-width="2.4" stroke-linejoin="round" stroke-linecap="round"/>
<text transform="translate(327.8,864.4) scale(1,1.09)" font-size="29.5" text-anchor="middle"><tspan font-style="italic">T</tspan> (K)</text>
<text transform="translate(23.2,618.9) rotate(-90)" font-size="29.5" text-anchor="middle"><tspan font-style="italic">&#961;</tspan> (m&#937; cm)</text>
<text transform="translate(1,467.5) scale(1,0.97)" font-size="30" fill="#000">(b)</text>
<text transform="translate(469.5,524.4) scale(1,1.09)" font-size="24.5" text-anchor="start" fill="#000">Run1</text>
<text transform="translate(117.5,501.6) scale(1,1.09)" font-size="24.5" text-anchor="start" fill="#0000ee">25.2</text>
<text transform="translate(117.5,532.8) scale(1,1.09)" font-size="24.5" text-anchor="start" fill="#ff00ff">28.2</text>
<text transform="translate(117.5,564) scale(1,1.09)" font-size="24.5" text-anchor="start" fill="#808000">31.1</text>
<text transform="translate(117.5,595.1) scale(1,1.09)" font-size="24.5" text-anchor="start" fill="#ff8000">34.4</text>
<text transform="translate(117.5,626.3) scale(1,1.09)" font-size="24.5" text-anchor="start" fill="#008000">37.5</text>
<text transform="translate(117.5,657.5) scale(1,1.09)" font-size="24.5" text-anchor="start" fill="#8000ff">41.7</text>
<text transform="translate(117.5,688.7) scale(1,1.09)" font-size="24.5" text-anchor="start" fill="#ff0080">52.4</text>
<text transform="translate(117.5,719.9) scale(1,1.09)" font-size="24.5" text-anchor="start" fill="#6a1030">63.2</text>
<text transform="translate(117.5,751) scale(1,1.09)" font-size="24.5" text-anchor="start" fill="#000000">GPa</text>
<path d="M709.2,797.3 V792.3 M755.2,797.3 V787.8 M801.1,797.3 V792.3 M847.1,797.3 V787.8 M893.1,797.3 V792.3 M939.1,797.3 V787.8 M985.1,797.3 V792.3 M1031,797.3 V787.8 M1077,797.3 V792.3 M663.2,768 H668.2 M663.2,738.7 H672.7 M663.2,709.4 H668.2 M663.2,680 H672.7 M663.2,650.7 H668.2 M663.2,621.4 H672.7 M663.2,592.1 H668.2 M663.2,562.8 H672.7 M663.2,533.5 H668.2 M663.2,504.1 H672.7 M663.2,474.8 H668.2 " stroke="#000" stroke-width="2.3" fill="none"/>
<rect x="663.2" y="445.5" width="459.8" height="351.8" fill="none" stroke="#000" stroke-width="2.3"/>
<text transform="translate(663.2,832.6) scale(1,1.09)" font-size="29.5" text-anchor="middle" fill="#000">0</text>
<text transform="translate(755.2,832.6) scale(1,1.09)" font-size="29.5" text-anchor="middle" fill="#000">2</text>
<text transform="translate(847.1,832.6) scale(1,1.09)" font-size="29.5" text-anchor="middle" fill="#000">4</text>
<text transform="translate(939.1,832.6) scale(1,1.09)" font-size="29.5" text-anchor="middle" fill="#000">6</text>
<text transform="translate(1031,832.6) scale(1,1.09)" font-size="29.5" text-anchor="middle" fill="#000">8</text>
<text transform="translate(1123,832.6) scale(1,1.09)" font-size="29.5" text-anchor="middle" fill="#000">10</text>
<text transform="translate(651.5,806.8) scale(1,1.09)" font-size="29.5" text-anchor="end" fill="#000">0.0</text>
<text transform="translate(651.5,748.2) scale(1,1.09)" font-size="29.5" text-anchor="end" fill="#000">0.3</text>
<text transform="translate(651.5,689.5) scale(1,1.09)" font-size="29.5" text-anchor="end" fill="#000">0.6</text>
<text transform="translate(651.5,630.9) scale(1,1.09)" font-size="29.5" text-anchor="end" fill="#000">0.9</text>
<text transform="translate(651.5,572.3) scale(1,1.09)" font-size="29.5" text-anchor="end" fill="#000">1.2</text>
<text transform="translate(651.5,513.6) scale(1,1.09)" font-size="29.5" text-anchor="end" fill="#000">1.5</text>
<text transform="translate(651.5,455) scale(1,1.09)" font-size="29.5" text-anchor="end" fill="#000">1.8</text>
<path d="M746,796 C809.3,796 872.7,796 936,796 C937.7,796 939.3,795.9 941,795.8 C944.5,795.6 947.9,788.7 951.4,784.8 C954.3,781.5 957.2,777.7 960.1,774.4 C963,771.1 965.9,767.2 968.8,764.8 C973.4,761 978.1,758 982.7,756.1 C989.7,753.3 996.6,751.3 1003.6,750 C1012.3,748.4 1021,747.2 1029.7,746.6 C1039.8,745.9 1049.9,745.4 1060,745.2 C1080.8,744.8 1101.6,744.6 1122.4,744.6" fill="none" stroke="#000000" stroke-width="2.4" stroke-linejoin="round" stroke-linecap="round"/>
<path d="M746,796 C787.3,796 828.7,796 870,796 C871.6,796 873.2,795.9 874.8,795.8 C876.6,795.7 878.3,787.6 880.1,783.1 C882.4,777.2 884.7,768.3 887,764 C889.9,758.5 892.8,754 895.7,751.8 C898.6,749.6 901.5,747.9 904.4,747.4 C911.4,746.3 918.3,745.8 925.3,745.7 C991,745 1056.7,744.8 1122.4,744.8" fill="none" stroke="#ff0000" stroke-width="2.4" stroke-linejoin="round" stroke-linecap="round"/>
<path d="M746,796 C784.3,796 822.7,796 861,796 C862.7,796 864.4,795.9 866.1,795.8 C867.9,795.7 869.6,789 871.4,783.1 C872.8,778.3 874.3,765.7 875.7,760.5 C877.2,755.2 878.6,749.7 880.1,748.3 C882.4,746.1 884.7,744.9 887,744.5 C894,743.3 900.9,742.7 907.9,742.7 C979.4,742.3 1050.9,742.2 1122.4,742.2" fill="none" stroke="#00ff00" stroke-width="2.4" stroke-linejoin="round" stroke-linecap="round"/>
<path d="M746,796 C780.3,796 814.7,796 849,796 C850.7,796 852.3,795.9 854,795.8 C855.4,795.7 856.9,792 858.3,788.3 C859.8,784.6 861.2,774.6 862.7,767.4 C863.8,761.8 865,753.1 866.1,750 C867.9,745.1 869.6,741.8 871.4,740.5 C874.3,738.3 877.2,736.7 880.1,736.6 C892.3,736.2 904.4,736.1 916.6,736.1 C985.2,736.1 1053.8,736.1 1122.4,736.5" fill="none" stroke="#0000ff" stroke-width="2.4" stroke-linejoin="round" stroke-linecap="round"/>
<path d="M746,796 C769,796 792,796 815,796 C817.5,796 820.1,795.9 822.6,795.8 C824.9,795.7 827.3,790.1 829.6,786.6 C832.5,782.2 835.4,776.4 838.3,770.9 C841.2,765.4 844.1,760 847,753.5 C849.3,748.3 851.7,740.9 854,736.1 C856.3,731.3 858.6,726.6 860.9,723.9 C863.8,720.6 866.7,717.1 869.6,716.6 C873.7,716 877.7,715.6 881.8,715.6 C962,715.6 1042.2,715.6 1122.4,715.6" fill="none" stroke="#ff00ff" stroke-width="2.4" stroke-linejoin="round" stroke-linecap="round"/>
<path d="M746,796 C754,796 762,796 770,796 C772.5,796 774.9,795.9 777.4,795.8 C780.9,795.6 784.3,791.5 787.8,788.3 C791.3,785 794.8,779.3 798.3,774.4 C801.8,769.5 805.2,763.3 808.7,758.7 C811.6,754.8 814.5,752.3 817.4,748.3 C820.3,744.3 823.2,739.8 826.1,734.4 C829,729 831.9,720.9 834.8,715.2 C837.7,709.5 840.6,703.4 843.5,699.6 C847,695.1 850.5,690.9 854,689.1 C858.6,686.7 863.3,684.7 867.9,684.3 C878.3,683.4 888.8,683 899.2,683 C932.8,683 966.4,683.2 1000,683.3 C1040.8,683.4 1081.6,683.5 1122.4,683.6" fill="none" stroke="#008000" stroke-width="2.4" stroke-linejoin="round" stroke-linecap="round"/>
<path d="M747.8,636.9 C750.4,631.9 753,626.3 755.6,620.3 C758.2,614.3 760.8,607.9 763.4,600.8 C766,593.7 768.6,584.5 771.2,577.4 C773.8,570.3 776.4,564.2 779,558 C781.6,551.8 784.2,545.3 786.8,540.4 C790,534.3 793.3,528.8 796.5,524.8 C800.4,520 804.3,516 808.2,513.1 C812.8,509.8 817.3,506.9 821.9,505.3 C828.4,503 834.8,501.6 841.3,500.5 C849.8,499.1 858.2,497.9 866.7,497.5 C877.8,497 888.9,496.6 900,496.6 C933.3,496.6 966.7,496.7 1000,496.8 C1040.8,496.9 1081.6,497.2 1122.4,497.5" fill="none" stroke="#ff8000" stroke-width="2.4" stroke-linejoin="round" stroke-linecap="round"/>
<text transform="translate(902.5,864.4) scale(1,1.09)" font-size="29.5" text-anchor="middle"><tspan font-style="italic">T</tspan> (K)</text>
<text transform="translate(597.8,618.5) rotate(-90)" font-size="29.5" text-anchor="middle"><tspan font-style="italic">&#961;</tspan> (m&#937; cm)</text>
<text transform="translate(572.6,467.5) scale(1,0.97)" font-size="30" fill="#000">(d)</text>
<text transform="translate(686,524.4) scale(1,1.09)" font-size="25.5" text-anchor="start" fill="#000">Run3</text>
<path d="M815.2,540 H867.8" stroke="#000000" stroke-width="2.8"/>
<text transform="translate(873.7,548) scale(1,1.09)" font-size="23" text-anchor="start" fill="#000">61.2</text>
<path d="M963.9,540 H1016" stroke="#ff0000" stroke-width="2.8"/>
<text transform="translate(1022,548) scale(1,1.09)" font-size="23" text-anchor="start" fill="#000">53.6 (R)</text>
<path d="M815.2,568.5 H867.8" stroke="#00ff00" stroke-width="2.8"/>
<text transform="translate(873.7,576.5) scale(1,1.09)" font-size="23" text-anchor="start" fill="#000">46.1 (R)</text>
<path d="M963.9,568.5 H1016" stroke="#0000ff" stroke-width="2.8"/>
<text transform="translate(1022,576.5) scale(1,1.09)" font-size="23" text-anchor="start" fill="#000">36.6 (R)</text>
<path d="M815.2,596.5 H867.8" stroke="#ff00ff" stroke-width="2.8"/>
<text transform="translate(873.7,604.5) scale(1,1.09)" font-size="23" text-anchor="start" fill="#000">26.4 (R)</text>
<path d="M963.9,596.5 H1016" stroke="#008000" stroke-width="2.8"/>
<text transform="translate(1022,604.5) scale(1,1.09)" font-size="23" text-anchor="start" fill="#000">20.8 (R)</text>
<path d="M815.2,624.6 H867.8" stroke="#ff8000" stroke-width="2.8"/>
<text transform="translate(873.7,632.6) scale(1,1.09)" font-size="23" text-anchor="start" fill="#000">14.6 (R)</text>
<text transform="translate(873.7,660) scale(1,1.09)" font-size="23" text-anchor="start" fill="#000">GPa</text>
<path d="M1247.8,515.9 L1370.6,646.5 L1400.8,671.7 L1430.4,696.8 L1442.2,706.8 L1454.1,716.9 L1465.9,726.9 L1477.7,737 L1488.9,747 L1502,757.1 L1516.5,767.1 L1532.2,777.2 L1550.6,787.2 L1560.5,792.3 L1569.7,794.8 L1580.8,795.8" fill="none" stroke="#ff0000" stroke-width="2.2" stroke-linejoin="round" stroke-linecap="round"/>
<path d="M1247.8,493.2 L1383.1,621.4 L1415.3,646.5 L1446.8,671.7 L1476.4,696.8 L1488.9,706.8 L1500.7,716.9 L1513.8,726.9 L1527,737 L1541.4,747 L1555.9,757.1 L1569.7,767.1 L1586.1,777.2 L1602.5,787.2 L1613.7,792.3 L1622.2,794.8 L1629.4,795.8" fill="none" stroke="#0000ff" stroke-width="2.2" stroke-linejoin="round" stroke-linecap="round"/>
<path d="M1247.8,467.1 L1394.9,596.3 L1428.4,621.4 L1460.6,646.5 L1492.2,671.7 L1524.3,696.8 L1537.5,706.8 L1550.6,716.9 L1563.1,726.9 L1576.9,737 L1591.3,747 L1606.4,757.1 L1622.9,767.1 L1638.6,777.2 L1656.4,787.2 L1666.2,792.3 L1678.7,794.8" fill="none" stroke="#008000" stroke-width="2.2" stroke-linejoin="round" stroke-linecap="round"/>
<rect x="1365.4" y="641.3" width="10.5" height="10.5" fill="#ff0000"/>
<rect x="1395.6" y="666.4" width="10.5" height="10.5" fill="#ff0000"/>
<rect x="1425.2" y="691.5" width="10.5" height="10.5" fill="#ff0000"/>
<rect x="1437" y="701.6" width="10.5" height="10.5" fill="#ff0000"/>
<rect x="1448.8" y="711.6" width="10.5" height="10.5" fill="#ff0000"/>
<rect x="1460.6" y="721.7" width="10.5" height="10.5" fill="#ff0000"/>
<rect x="1472.4" y="731.7" width="10.5" height="10.5" fill="#ff0000"/>
<rect x="1483.6" y="741.8" width="10.5" height="10.5" fill="#ff0000"/>
<rect x="1496.8" y="751.8" width="10.5" height="10.5" fill="#ff0000"/>
<rect x="1511.2" y="761.9" width="10.5" height="10.5" fill="#ff0000"/>
<rect x="1527" y="771.9" width="10.5" height="10.5" fill="#ff0000"/>
<rect x="1545.4" y="782" width="10.5" height="10.5" fill="#ff0000"/>
<rect x="1555.2" y="787" width="10.5" height="10.5" fill="#ff0000"/>
<rect x="1564.4" y="789.5" width="10.5" height="10.5" fill="#ff0000"/>
<rect x="1575.6" y="790.5" width="10.5" height="10.5" fill="#ff0000"/>
<rect x="1377.9" y="616.1" width="10.5" height="10.5" fill="#0000ff"/>
<rect x="1410" y="641.3" width="10.5" height="10.5" fill="#0000ff"/>
<rect x="1441.6" y="666.4" width="10.5" height="10.5" fill="#0000ff"/>
<rect x="1471.1" y="691.5" width="10.5" height="10.5" fill="#0000ff"/>
<rect x="1483.6" y="701.6" width="10.5" height="10.5" fill="#0000ff"/>
<rect x="1495.4" y="711.6" width="10.5" height="10.5" fill="#0000ff"/>
<rect x="1508.6" y="721.7" width="10.5" height="10.5" fill="#0000ff"/>
<rect x="1521.7" y="731.7" width="10.5" height="10.5" fill="#0000ff"/>
<rect x="1536.2" y="741.8" width="10.5" height="10.5" fill="#0000ff"/>
<rect x="1550.6" y="751.8" width="10.5" height="10.5" fill="#0000ff"/>
<rect x="1564.4" y="761.9" width="10.5" height="10.5" fill="#0000ff"/>
<rect x="1580.8" y="771.9" width="10.5" height="10.5" fill="#0000ff"/>
<rect x="1597.3" y="782" width="10.5" height="10.5" fill="#0000ff"/>
<rect x="1608.4" y="787" width="10.5" height="10.5" fill="#0000ff"/>
<rect x="1617" y="789.5" width="10.5" height="10.5" fill="#0000ff"/>
<rect x="1624.2" y="790.5" width="10.5" height="10.5" fill="#0000ff"/>
<rect x="1389.7" y="591" width="10.5" height="10.5" fill="#008000"/>
<rect x="1423.2" y="616.1" width="10.5" height="10.5" fill="#008000"/>
<rect x="1455.4" y="641.3" width="10.5" height="10.5" fill="#008000"/>
<rect x="1486.9" y="666.4" width="10.5" height="10.5" fill="#008000"/>
<rect x="1519.1" y="691.5" width="10.5" height="10.5" fill="#008000"/>
<rect x="1532.2" y="701.6" width="10.5" height="10.5" fill="#008000"/>
<rect x="1545.4" y="711.6" width="10.5" height="10.5" fill="#008000"/>
<rect x="1557.8" y="721.7" width="10.5" height="10.5" fill="#008000"/>
<rect x="1571.6" y="731.7" width="10.5" height="10.5" fill="#008000"/>
<rect x="1586.1" y="741.8" width="10.5" height="10.5" fill="#008000"/>
<rect x="1601.2" y="751.8" width="10.5" height="10.5" fill="#008000"/>
<rect x="1617.6" y="761.9" width="10.5" height="10.5" fill="#008000"/>
<rect x="1633.4" y="771.9" width="10.5" height="10.5" fill="#008000"/>
<rect x="1651.1" y="782" width="10.5" height="10.5" fill="#008000"/>
<rect x="1661" y="787" width="10.5" height="10.5" fill="#008000"/>
<rect x="1673.4" y="789.5" width="10.5" height="10.5" fill="#008000"/>
<path d="M1280.6,797.3 V792.3 M1313.5,797.3 V787.8 M1346.3,797.3 V792.3 M1379.2,797.3 V787.8 M1412,797.3 V792.3 M1444.9,797.3 V787.8 M1477.7,797.3 V792.3 M1510.5,797.3 V787.8 M1543.4,797.3 V792.3 M1576.2,797.3 V787.8 M1609.1,797.3 V792.3 M1641.9,797.3 V787.8 M1674.8,797.3 V792.3 M1247.8,772.2 H1252.8 M1247.8,747 H1257.3 M1247.8,721.9 H1252.8 M1247.8,696.8 H1257.3 M1247.8,671.7 H1252.8 M1247.8,646.5 H1257.3 M1247.8,621.4 H1252.8 M1247.8,596.3 H1257.3 M1247.8,571.1 H1252.8 M1247.8,546 H1257.3 M1247.8,520.9 H1252.8 M1247.8,495.8 H1257.3 M1247.8,470.6 H1252.8 " stroke="#000" stroke-width="2.3" fill="none"/>
<rect x="1247.8" y="445.5" width="459.8" height="351.8" fill="none" stroke="#000" stroke-width="2.3"/>
<text transform="translate(1247.8,832.6) scale(1,1.09)" font-size="29.5" text-anchor="middle" fill="#000">0</text>
<text transform="translate(1313.5,832.6) scale(1,1.09)" font-size="29.5" text-anchor="middle" fill="#000">1</text>
<text transform="translate(1379.2,832.6) scale(1,1.09)" font-size="29.5" text-anchor="middle" fill="#000">2</text>
<text transform="translate(1444.9,832.6) scale(1,1.09)" font-size="29.5" text-anchor="middle" fill="#000">3</text>
<text transform="translate(1510.5,832.6) scale(1,1.09)" font-size="29.5" text-anchor="middle" fill="#000">4</text>
<text transform="translate(1576.2,832.6) scale(1,1.09)" font-size="29.5" text-anchor="middle" fill="#000">5</text>
<text transform="translate(1641.9,832.6) scale(1,1.09)" font-size="29.5" text-anchor="middle" fill="#000">6</text>
<text transform="translate(1707.6,832.6) scale(1,1.09)" font-size="29.5" text-anchor="middle" fill="#000">7</text>
<text transform="translate(1236.1,806.8) scale(1,1.09)" font-size="29.5" text-anchor="end" fill="#000">0</text>
<text transform="translate(1236.1,756.5) scale(1,1.09)" font-size="29.5" text-anchor="end" fill="#000">1</text>
<text transform="translate(1236.1,706.3) scale(1,1.09)" font-size="29.5" text-anchor="end" fill="#000">2</text>
<text transform="translate(1236.1,656) scale(1,1.09)" font-size="29.5" text-anchor="end" fill="#000">3</text>
<text transform="translate(1236.1,605.8) scale(1,1.09)" font-size="29.5" text-anchor="end" fill="#000">4</text>
<text transform="translate(1236.1,555.5) scale(1,1.09)" font-size="29.5" text-anchor="end" fill="#000">5</text>
<text transform="translate(1236.1,505.3) scale(1,1.09)" font-size="29.5" text-anchor="end" fill="#000">6</text>
<text transform="translate(1236.1,455) scale(1,1.09)" font-size="29.5" text-anchor="end" fill="#000">7</text>
<text transform="translate(1482.8,864.4) scale(1,1.09)" font-size="29.5" text-anchor="middle"><tspan font-style="italic">T</tspan> (K)</text>
<text transform="translate(1165,622.2) rotate(-90)" font-size="29.5" text-anchor="middle"><tspan font-style="italic">&#956;</tspan><tspan font-size="20" dy="7.5">0</tspan><tspan font-style="italic" dy="-7.5">H</tspan><tspan font-size="20" dy="7.5">c2</tspan><tspan dy="-7.5"> (T)</tspan></text>
<text transform="translate(1140.5,467.5) scale(1,0.97)" font-size="30" fill="#000">(f)</text>
<rect x="1510.8" y="496.3" width="10.2" height="10.2" fill="#ff0000"/>
<text x="1552" y="510.3" font-size="25.3">59.5 GPa</text>
<rect x="1510.8" y="527.5" width="10.2" height="10.2" fill="#0000ff"/>
<text x="1552" y="541.5" font-size="25.3">70.1 GPa</text>
<rect x="1510.8" y="558.7" width="10.2" height="10.2" fill="#008000"/>
<text x="1552" y="572.7" font-size="25.3">79.5 GPa</text>
</svg>
</body></html>
